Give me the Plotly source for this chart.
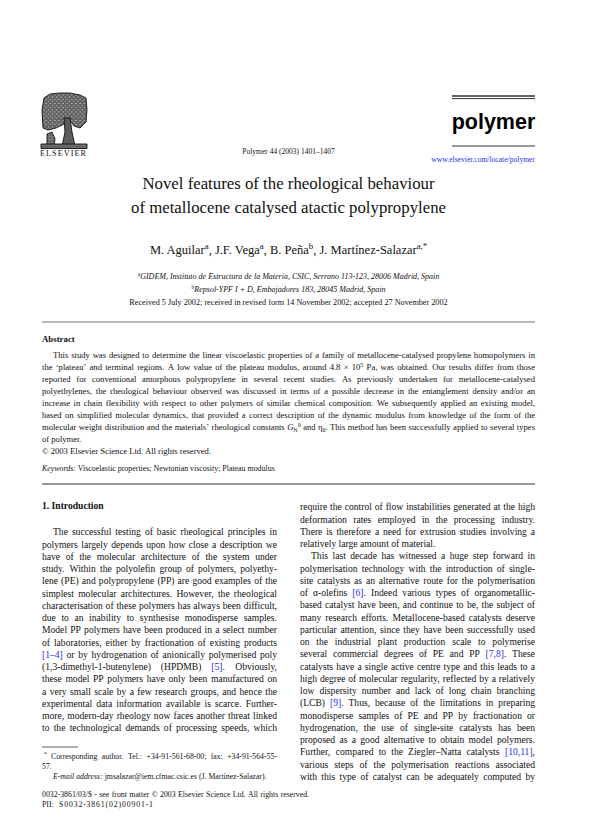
import re
import plotly.graph_objects as go

# ---------------- page text ----------------
PUBLISHER = "ELSEVIER"
JOURNAL_REF = "Polymer 44 (2003) 1401–1407"
JOURNAL_LOGO = "polymer"
JOURNAL_URL = "www.elsevier.com/locate/polymer"

TITLE_LINES = ["Novel features of the rheological behaviour",
               "of metallocene catalysed atactic polypropylene"]
AUTHORS = ("M. Aguilar<sup>a</sup>, J.F. Vega<sup>a</sup>, B. Peña<sup>b</sup>, "
           "J. Martínez-Salazar<sup>a,*</sup>")
AFFILIATIONS = [
    "<sup>a</sup><i>GIDEM, Instituto de Estructura de la Materia, CSIC, Serrano 113-123, 28006 Madrid, Spain</i>",
    "<sup>b</sup><i>Repsol-YPF I + D, Embajadores 183, 28045 Madrid, Spain</i>",
]
RECEIVED = "Received 5 July 2002; received in revised form 14 November 2002; accepted 27 November 2002"

ABSTRACT_HEAD = "Abstract"
ABSTRACT_LINES = [
    "This study was designed to determine the linear viscoelastic properties of a family of metallocene-catalysed propylene homopolymers in",
    "the ‘plateau’ and terminal regions. A low value of the plateau modulus, around 4.8 × 10<sup>5</sup> Pa, was obtained. Our results differ from those",
    "reported for conventional amorphous polypropylene in several recent studies. As previously undertaken for metallocene-catalysed",
    "polyethylenes, the rheological behaviour observed was discussed in terms of a possible decrease in the entanglement density and/or an",
    "increase in chain flexibility with respect to other polymers of similar chemical composition. We subsequently applied an existing model,",
    "based on simplified molecular dynamics, that provided a correct description of the dynamic modulus from knowledge of the form of the",
    "molecular weight distribution and the materials’ rheological constants <i>G</i><sub>N</sub><sup>0</sup> and η<sub>0</sub>. This method has been successfully applied to several types",
    "of polymer.",
]
COPYRIGHT = "© 2003 Elsevier Science Ltd. All rights reserved."
KEYWORDS = "<i>Keywords:</i> Viscoelastic properties; Newtonian viscosity; Plateau modulus"

SECTION_HEAD = "1. Introduction"
LEFT_COLUMN = [
    "The successful testing of basic rheological principles in",
    "polymers largely depends upon how close a description we",
    "have of the molecular architecture of the system under",
    "study. Within the polyolefin group of polymers, polyethy-",
    "lene (PE) and polypropylene (PP) are good examples of the",
    "simplest molecular architectures. However, the rheological",
    "characterisation of these polymers has always been difficult,",
    "due to an inability to synthesise monodisperse samples.",
    "Model PP polymers have been produced in a select number",
    "of laboratories, either by fractionation of existing products",
    "[1–4] or by hydrogenation of anionically polymerised poly",
    "(1,3-dimethyl-1-butenylene) (HPDMB) [5]. Obviously,",
    "these model PP polymers have only been manufactured on",
    "a very small scale by a few research groups, and hence the",
    "experimental data information available is scarce. Further-",
    "more, modern-day rheology now faces another threat linked",
    "to the technological demands of processing speeds, which",
]
RIGHT_COLUMN = [
    "require the control of flow instabilities generated at the high",
    "deformation rates employed in the processing industry.",
    "There is therefore a need for extrusion studies involving a",
    "relatively large amount of material.",
    "This last decade has witnessed a huge step forward in",
    "polymerisation technology with the introduction of single-",
    "site catalysts as an alternative route for the polymerisation",
    "of α-olefins [6]. Indeed various types of organometallic-",
    "based catalyst have been, and continue to be, the subject of",
    "many research efforts. Metallocene-based catalysts deserve",
    "particular attention, since they have been successfully used",
    "on the industrial plant production scale to polymerise",
    "several commercial degrees of PE and PP [7,8]. These",
    "catalysts have a single active centre type and this leads to a",
    "high degree of molecular regularity, reflected by a relatively",
    "low dispersity number and lack of long chain branching",
    "(LCB) [9]. Thus, because of the limitations in preparing",
    "monodisperse samples of PE and PP by fractionation or",
    "hydrogenation, the use of single-site catalysts has been",
    "proposed as a good alternative to obtain model polymers.",
    "Further, compared to the Ziegler–Natta catalysts [10,11],",
    "various steps of the polymerisation reactions associated",
    "with this type of catalyst can be adequately computed by",
]
RIGHT_PARA_ENDS = [3]
RIGHT_PARA_STARTS = [4]

FOOTNOTE_1 = "<sup>*</sup> Corresponding author. Tel.: +34-91-561-68-00; fax: +34-91-564-55-"
FOOTNOTE_2 = "57."
FOOTNOTE_3 = "<i>E-mail address:</i> jmsalazar@iem.cfmac.csic.es (J. Martínez-Salazar)."
FRONT_MATTER = "0032-3861/03/$ - see front matter © 2003 Elsevier Science Ltd. All rights reserved."
PII_LABEL = "PII:"
PII_CODE = "S0032-3861(02)00901-1"

# rough outline of the publisher's tree emblem
TREE_CROWN_X = [43, 42, 44, 50, 60, 70, 80, 86, 87, 86, 80, 74, 70, 64, 56, 48, 43]
TREE_CROWN_Y = [128, 110, 98, 94, 93, 93, 95, 98, 110, 122, 128, 126, 120, 124, 128, 130, 128]
TREE_TRUNK_X = [64, 70, 72, 75, 62, 65, 64]
TREE_TRUNK_Y = [118, 118, 132, 146, 146, 132, 118]
TREE_FIGURE_X = [47, 52, 55, 54, 47, 47]
TREE_FIGURE_Y = [134, 132, 139, 146, 146, 134]
TREE_GROUND_X = [41, 87, 87, 41, 41]
TREE_GROUND_Y = [144, 144, 148.5, 148.5, 144]

# ---------------- styling ----------------
SERIF = "Liberation Serif, Times New Roman, serif"
SANS = "Liberation Sans, Arial, sans-serif"
INK = "#111111"
LINK = "#2b2bff"

PAGE_L, PAGE_R, PAGE_C = 42, 535, 288.5
COL_L = (42, 277)
COL_R = (300, 535)
INDENT = 11
BODY_SIZE = 9.6
BODY_STEP = 12.25
ABS_SIZE = 8.6
ABS_STEP = 12.0
BODY_MARGIN = 8  # the page body offsets the figure by this many pixels

# Times advance widths (1/1000 em)
WIDTHS = {}
for chars, w in [(" ,.", 250), ("ijlt/:;í", 278), ("fr()[]-I'‘’!`", 333), ("sJ", 389),
                 ("acez?", 444), ("bdghknopquvxy0123456789*$_–ñαη", 500),
                 ("FPS", 556), ("+×=<>", 564), ("ELTZ", 611), ("BCR", 667),
                 ("ADGHKNOQUVXYw", 722), ("m&", 778), ("%", 833), ("M", 889),
                 ("W", 944), ("©", 760), ("@", 921)]:
    for c in chars:
        WIDTHS[c] = w


def text_width(s, size):
    total, scale = 0.0, 1.0
    for part in re.split(r'(<[^>]+>)', s):
        if part.startswith('<'):
            tag = part.strip('</>').split()[0].lower()
            if tag in ('sup', 'sub'):
                scale = 1.0 if part.startswith('</') else 0.7
            continue
        for ch in part:
            total += WIDTHS.get(ch, 500) * scale
    return total * size / 1000.0


def cite(s):
    return re.sub(r'(\[[^\]]*\])', r"<span style='color:" + LINK + r"'>\1</span>", s)


items = {}


def put(x, y, text, size, pos='middle center', family=SERIF, color=INK):
    items.setdefault((size, family, color), []).append((x, y, text, pos))


def set_line(line, x0, x1, y, size, justify=True):
    if not justify:
        put(x0, y, cite(line), size, 'middle right')
        return
    words = line.split(' ')
    widths = [text_width(w, size) for w in words]
    gap = (x1 - x0 - sum(widths)) / max(len(words) - 1, 1)
    x = x0
    for i, (w, wd) in enumerate(zip(words, widths)):
        if i == 0:
            put(x0, y, cite(w), size, 'middle right')
        elif i == len(words) - 1:
            put(x1, y, cite(w), size, 'middle left')
        else:
            put(x + wd / 2, y, cite(w), size)
        x += wd + gap


def set_column(lines, x0, x1, y0, step, size, starts=(), ends=()):
    for i, ln in enumerate(lines):
        xs = x0 + (INDENT if i in starts else 0)
        set_line(ln, xs, x1, y0 + i * step, size, justify=i not in ends)


def spread(text, x0, x1, y, size, family=SERIF):
    widths = [text_width(c, size) for c in text]
    gap = (x1 - x0 - sum(widths)) / max(len(text) - 1, 1)
    x = x0
    for c, wd in zip(text, widths):
        put(x + wd / 2, y, c, size, family=family)
        x += wd + gap


# ---------------- header ----------------
spread(PUBLISHER, 40, 86, 153.5, 8.2)
put(PAGE_C, 152, JOURNAL_REF, 7.5)
put(493.5, 124, "<b>" + JOURNAL_LOGO + "</b>", 21.5, family=SANS, color="#000000")
put(535, 160, JOURNAL_URL, 7.6, 'middle left', color=LINK)

put(PAGE_C, 185, TITLE_LINES[0], 16.8)
put(PAGE_C, 209, TITLE_LINES[1], 16.8)
put(PAGE_C, 251, AUTHORS, 12.5)
put(PAGE_C, 277, AFFILIATIONS[0], 8.0)
put(PAGE_C, 290, AFFILIATIONS[1], 8.0)
put(PAGE_C, 303, RECEIVED, 8.2)

# ---------------- abstract ----------------
put(PAGE_L, 340, "<b>" + ABSTRACT_HEAD + "</b>", 8.8, 'middle right')
set_column(ABSTRACT_LINES, PAGE_L, PAGE_R, 356, ABS_STEP, ABS_SIZE,
           starts=[0], ends=[len(ABSTRACT_LINES) - 1])
set_line(COPYRIGHT, PAGE_L, PAGE_R, 356 + len(ABSTRACT_LINES) * ABS_STEP, ABS_SIZE, justify=False)
put(PAGE_L, 469, KEYWORDS, 7.9, 'middle right')

# ---------------- body ----------------
put(PAGE_L, 507, "<b>" + SECTION_HEAD + "</b>", 9.6, 'middle right')
set_column(LEFT_COLUMN, COL_L[0], COL_L[1], 533, BODY_STEP, BODY_SIZE, starts=[0])
set_column(RIGHT_COLUMN, COL_R[0], COL_R[1], 508, BODY_STEP, BODY_SIZE,
           starts=RIGHT_PARA_STARTS, ends=RIGHT_PARA_ENDS)

# ---------------- footnotes ----------------
set_line(FOOTNOTE_1, 44, COL_L[1], 757, 7.8)
set_line(FOOTNOTE_2, COL_L[0], COL_L[1], 767, 7.8, justify=False)
set_line(FOOTNOTE_3, 53, COL_L[1], 777, 7.8, justify=False)
set_line(FRONT_MATTER, COL_L[0], 309, 795, 7.8)
put(COL_L[0], 805, PII_LABEL, 7.8, 'middle right')
spread(PII_CODE, 59, 153, 805, 7.8)

# ---------------- figure ----------------
fig = go.Figure()

tree_parts = [
    (TREE_CROWN_X, TREE_CROWN_Y, dict(shape='x', fgcolor='#000', bgcolor='#bbbbbb', size=3, solidity=0.8)),
    (TREE_TRUNK_X, TREE_TRUNK_Y, dict(shape='|', fgcolor='#000', bgcolor='#999999', size=2, solidity=0.8)),
    (TREE_FIGURE_X, TREE_FIGURE_Y, dict(shape='x', fgcolor='#000', bgcolor='#999999', size=2, solidity=0.7)),
    (TREE_GROUND_X, TREE_GROUND_Y, dict(shape='x', fgcolor='#000', bgcolor='#aaaaaa', size=2, solidity=0.8)),
]
for xs, ys, patt in tree_parts:
    fig.add_trace(go.Scatter(x=xs, y=ys, mode='lines', fill='toself', fillpattern=patt,
                             line=dict(color='#111', width=0.9), hoverinfo='skip'))

for (size, family, color), pts in items.items():
    xs, ys, ts, ps = zip(*pts)
    fig.add_trace(go.Scatter(x=xs, y=ys, text=ts, mode='text', textposition=list(ps),
                             textfont=dict(size=size, family=family, color=color),
                             hoverinfo='skip'))

rules = [
    dict(x0=452, x1=535, y0=96, y1=96, width=1.3),
    dict(x0=452, x1=535, y0=98.6, y1=98.6, width=1.0),
    dict(x0=452, x1=535, y0=146, y1=146, width=1.0),
    dict(x0=PAGE_L, x1=PAGE_R, y0=322, y1=322, width=0.7),
    dict(x0=PAGE_L, x1=PAGE_R, y0=484, y1=484, width=1.2),
    dict(x0=PAGE_L, x1=78, y0=747, y1=747, width=0.8),
]
for r in rules:
    fig.add_shape(type='line', xref='x', yref='y', x0=r['x0'], x1=r['x1'],
                  y0=r['y0'], y1=r['y1'], line=dict(color='#333', width=r['width']))

fig.update_layout(
    width=600 - BODY_MARGIN,
    height=825 - BODY_MARGIN,
    margin=dict(l=0, r=0, t=0, b=0),
    xaxis=dict(range=[BODY_MARGIN, 600], visible=False),
    yaxis=dict(range=[825, BODY_MARGIN], visible=False),
    plot_bgcolor='white',
    paper_bgcolor='white',
    showlegend=False,
)

fig.write_html("out.html")
